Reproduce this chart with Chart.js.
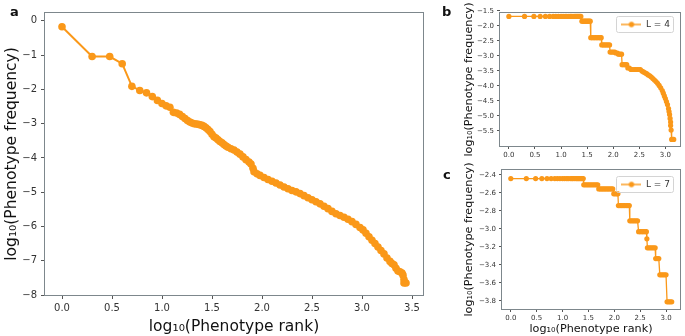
<!DOCTYPE html>
<html>
<head>
<meta charset="utf-8">
<script src="https://cdn.jsdelivr.net/npm/chart.js@4/dist/chart.umd.min.js"></script>
<style>
  body { margin: 0; background: #fff; width: 685px; height: 336px; position: relative; overflow: hidden; }
  canvas { position: absolute; }
  .tag { position: absolute; font: bold 13px "DejaVu Sans"; line-height: 13px; color: #111; }
</style>
</head>
<body>
<canvas id="chartA" width="440" height="336" style="left:0;top:0"></canvas>
<canvas id="chartB" width="245" height="160" style="left:440px;top:0"></canvas>
<canvas id="chartC" width="245" height="176" style="left:440px;top:160px"></canvas>
<div class="tag" style="left:10px;top:5px">a</div>
<div class="tag" style="left:442px;top:5px">b</div>
<div class="tag" style="left:443px;top:168px">c</div>
<script>
// panel a: all phenotypes
const aRank = [0, 0.301, 0.477, 0.602, 0.699, 0.778, 0.845, 0.903, 0.954, 1.0, 1.041, 1.079,
    1.114, 1.146, 1.176, 1.204, 1.23, 1.255, 1.279, 1.301, 1.322, 1.342, 1.362, 1.38,
    1.40, 1.42, 1.44, 1.46, 1.48, 1.50, 1.52, 1.54, 1.56, 1.58, 1.60, 1.62, 1.64, 1.66,
    1.69, 1.72, 1.75, 1.78, 1.81, 1.84, 1.87, 1.89, 1.91, 1.92, 1.95, 1.98,
    2.02, 2.06, 2.10, 2.14, 2.18, 2.22, 2.26, 2.30, 2.34, 2.38, 2.42, 2.46, 2.50,
    2.54, 2.58, 2.62, 2.66, 2.70, 2.74, 2.78, 2.82, 2.86, 2.90, 2.94, 2.98,
    3.01, 3.04, 3.07, 3.10, 3.13, 3.16, 3.19, 3.22, 3.25, 3.28, 3.30, 3.32, 3.34,
    3.36, 3.38, 3.40, 3.41, 3.42, 3.42, 3.44];
const aFreq = [-0.17, -1.04, -1.04, -1.25, -1.91, -2.03, -2.10, -2.21, -2.32, -2.41, -2.48, -2.52,
    -2.67, -2.69, -2.73, -2.79, -2.85, -2.91, -2.95, -2.98, -3.00, -3.01, -3.02, -3.03,
    -3.05, -3.08, -3.12, -3.17, -3.23, -3.31, -3.38, -3.42, -3.47, -3.52, -3.56, -3.61, -3.65, -3.69,
    -3.73, -3.77, -3.83, -3.89, -3.97, -4.05, -4.12, -4.18, -4.30, -4.40, -4.46, -4.51,
    -4.57, -4.63, -4.68, -4.73, -4.79, -4.85, -4.90, -4.95, -4.99, -5.04, -5.10, -5.16, -5.22,
    -5.28, -5.34, -5.41, -5.48, -5.56, -5.63, -5.68, -5.73, -5.79, -5.86, -5.94, -6.03,
    -6.10, -6.20, -6.30, -6.40, -6.50, -6.60, -6.70, -6.80, -6.92, -7.02, -7.08, -7.12, -7.22,
    -7.30, -7.32, -7.36, -7.42, -7.55, -7.65, -7.65];
const aXTicks = [0, 0.5, 1, 1.5, 2, 2.5, 3, 3.5];
const aYTicks = [0, -1, -2, -3, -4, -5, -6, -7, -8];

// panel b: L = 4
const bRank = [0, 0.30, 0.48, 0.60, 0.70, 0.78, 0.85, 0.90, 0.95, 1.00, 1.04, 1.08, 1.11, 1.15,
    1.18, 1.20, 1.23, 1.26, 1.28, 1.30, 1.32, 1.34, 1.36, 1.38,
    1.40, 1.42, 1.44, 1.46, 1.48, 1.50, 1.52, 1.54, 1.56,
    1.57, 1.60, 1.63, 1.66, 1.69, 1.72, 1.75, 1.77,
    1.78, 1.81, 1.84, 1.87, 1.90, 1.93,
    1.94, 1.97, 2.00, 2.03, 2.05, 2.08, 2.10, 2.13, 2.16,
    2.17, 2.20, 2.23, 2.26, 2.28, 2.31,
    2.34, 2.37, 2.40, 2.43, 2.46, 2.49, 2.52,
    2.55, 2.58, 2.61, 2.64, 2.67, 2.70, 2.73, 2.76, 2.79, 2.82, 2.85, 2.88, 2.91, 2.94,
    2.96, 2.98, 3.00, 3.02, 3.04, 3.06, 3.07, 3.08, 3.09, 3.10, 3.10, 3.11,
    3.12, 3.14, 3.16];
const bFreq = [-1.68, -1.68, -1.68, -1.68, -1.68, -1.68, -1.68, -1.68, -1.68, -1.68, -1.68, -1.68, -1.68, -1.68,
    -1.68, -1.68, -1.68, -1.68, -1.68, -1.68, -1.68, -1.68, -1.68, -1.68,
    -1.84, -1.84, -1.84, -1.84, -1.84, -1.84, -1.84, -1.84, -1.84,
    -2.39, -2.39, -2.39, -2.39, -2.39, -2.39, -2.39, -2.39,
    -2.63, -2.63, -2.63, -2.63, -2.63, -2.63,
    -2.87, -2.87, -2.87, -2.87, -2.90, -2.90, -2.94, -2.94, -2.94,
    -3.29, -3.29, -3.29, -3.29, -3.40, -3.40,
    -3.45, -3.45, -3.45, -3.45, -3.45, -3.45, -3.45,
    -3.50, -3.53, -3.56, -3.59, -3.63, -3.66, -3.70, -3.75, -3.80, -3.85, -3.91, -3.98, -4.06, -4.15,
    -4.24, -4.33, -4.42, -4.52, -4.62, -4.75, -4.85, -4.95, -5.08, -5.20, -5.32, -5.47,
    -5.78, -5.78, -5.78];
const bXTicks = [0, 0.5, 1, 1.5, 2, 2.5, 3];
const bYTicks = [-1.5, -2, -2.5, -3, -3.5, -4, -4.5, -5, -5.5];

// panel c: L = 7
const cRank = [0, 0.30, 0.48, 0.60, 0.70, 0.78, 0.85, 0.90, 0.95, 1.00, 1.04, 1.08, 1.11, 1.15,
    1.18, 1.20, 1.23, 1.26, 1.28, 1.30, 1.32, 1.34, 1.36, 1.38, 1.40,
    1.41, 1.44, 1.47, 1.50, 1.53, 1.56, 1.59, 1.62, 1.65, 1.68,
    1.70, 1.73, 1.76, 1.79, 1.82, 1.85, 1.88, 1.91, 1.94, 1.97,
    1.99, 2.02, 2.05, 2.07,
    2.08, 2.11, 2.14, 2.17, 2.20, 2.23, 2.26, 2.29,
    2.30, 2.33, 2.36, 2.39, 2.42, 2.45,
    2.47, 2.50, 2.53, 2.56, 2.59, 2.62,
    2.63,
    2.64, 2.67, 2.70, 2.73, 2.76, 2.79,
    2.80, 2.83, 2.86,
    2.88, 2.91, 2.94, 2.97, 3.00,
    3.02, 3.05, 3.08, 3.11];
const cFreq = [-2.44, -2.44, -2.44, -2.44, -2.44, -2.44, -2.44, -2.44, -2.44, -2.44, -2.44, -2.44, -2.44, -2.44,
    -2.44, -2.44, -2.44, -2.44, -2.44, -2.44, -2.44, -2.44, -2.44, -2.44, -2.44,
    -2.51, -2.51, -2.51, -2.51, -2.51, -2.51, -2.51, -2.51, -2.51, -2.51,
    -2.555, -2.555, -2.555, -2.555, -2.555, -2.555, -2.555, -2.555, -2.555, -2.555,
    -2.61, -2.61, -2.61, -2.61,
    -2.74, -2.74, -2.74, -2.74, -2.74, -2.74, -2.74, -2.74,
    -2.91, -2.91, -2.91, -2.91, -2.91, -2.91,
    -3.03, -3.03, -3.03, -3.03, -3.03, -3.03,
    -3.11,
    -3.21, -3.21, -3.21, -3.21, -3.21, -3.21,
    -3.33, -3.33, -3.33,
    -3.51, -3.51, -3.51, -3.51, -3.51,
    -3.81, -3.81, -3.81, -3.81];
const cXTicks = [0, 0.5, 1, 1.5, 2, 2.5, 3];
const cYTicks = [-2.4, -2.6, -2.8, -3.0, -3.2, -3.4, -3.6, -3.8];

const orange = "rgb(250, 152, 25)";
const font = "DejaVu Sans";

// little line+dot marker for the legends
const icon = document.createElement("canvas");
icon.width = 20;
icon.height = 8;
const ictx = icon.getContext("2d");
ictx.strokeStyle = orange;
ictx.lineWidth = 1.4;
ictx.beginPath();
ictx.moveTo(0, 4);
ictx.lineTo(20, 4);
ictx.stroke();
ictx.fillStyle = orange;
ictx.beginPath();
ictx.arc(10, 4, 2.7, 0, Math.PI * 2);
ictx.fill();

// legend in chartArea mode sits bottom-left: shift it to the top-right corner
const moveLegend = {
    id: "moveLegend",
    afterUpdate(chart, args, opts) {
        const lg = chart.legend;
        if (!lg || !lg.options.display) return;
        const a = chart.chartArea;
        const dx = a.right - lg.width + (opts.dx || 0) - lg.left;
        const dy = a.top + (opts.dy || 0) - lg.top;
        lg.left += dx;
        lg.right += dx;
        lg.top += dy;
        lg.bottom += dy;
        lg.legendHitBoxes.forEach((h) => {
            h.left += dx;
            h.top += dy;
        });
    },
};

// box round the plot area and round the legend
const frame = {
    id: "frame",
    afterDraw(chart) {
        const { ctx, chartArea: a } = chart;
        ctx.save();
        ctx.strokeStyle = "#7d878c";
        ctx.lineWidth = 1;
        ctx.strokeRect(Math.round(a.left) - 0.5, Math.round(a.top) - 0.5,
            Math.round(a.right - a.left) + 1, Math.round(a.bottom - a.top) + 1);
        const lg = chart.legend;
        if (lg && lg.options.display && lg.legendHitBoxes.length) {
            const h = lg.legendHitBoxes[0];
            ctx.strokeStyle = "#d4d4d4";
            ctx.beginPath();
            ctx.roundRect(Math.round(h.left) - 4.5, Math.round(h.top) - 3.5, Math.round(h.width) + 8, Math.round(h.height) + 7, 2);
            ctx.stroke();
        }
        ctx.restore();
    },
};

function axis(o) {
    return {
        type: "linear",
        min: o.min,
        max: o.max,
        afterBuildTicks: (s) => { s.ticks = o.ticks.map((v) => ({ value: v })); },
        afterFit: (s) => {
            if (s.isHorizontal()) s.height = o.size;
            else s.width = o.size;
        },
        grid: { drawOnChartArea: false, drawTicks: true, tickLength: o.tick, color: "#555" },
        border: { display: false },
        ticks: {
            autoSkip: false,
            maxRotation: 0,
            padding: o.pad,
            color: "#333",
            font: { family: font, size: o.font },
            callback: (v) => v.toFixed(o.dec).replace("-", "\u2212"),
        },
        title: {
            display: !!o.title,
            text: o.title || "",
            color: "#111",
            font: { family: font, size: o.titleSize },
            padding: { top: o.titlePad || 0, bottom: 0 },
        },
    };
}

function plot(id, xs, ys, label, o) {
    new Chart(document.getElementById(id).getContext("2d"), {
        type: "scatter",
        data: {
            datasets: [
                {
                    label: label,
                    data: xs.map((x, i) => ({ x: x, y: ys[i] })),
                    showLine: true,
                    borderColor: orange,
                    backgroundColor: orange,
                    borderWidth: o.lineWidth,
                    pointRadius: o.radius,
                    pointBorderWidth: 0,
                    pointHoverRadius: o.radius,
                },
            ],
        },
        options: {
            responsive: false,
            animation: false,
            devicePixelRatio: 1,
            layout: { padding: o.padding },
            scales: { x: axis(o.x), y: axis(o.y) },
            plugins: {
                tooltip: { enabled: false },
                moveLegend: o.legend || {},
                legend: {
                    display: !!label,
                    position: "chartArea",
                    align: "start",
                    labels: {
                        usePointStyle: true,
                        pointStyle: icon,
                        pointStyleWidth: 20,
                        padding: 7,
                        color: "#333",
                        font: { family: font, size: 9 },
                    },
                },
            },
        },
        plugins: [moveLegend, frame],
    });
}

plot("chartA", aRank, aFreq, "", {
    lineWidth: 2,
    radius: 3.8,
    padding: { left: 0, top: 13, right: 17, bottom: 0 },
    x: { min: -0.17, max: 3.61, ticks: aXTicks, size: 41, tick: 4, pad: 3, font: 10, dec: 1,
        title: "log\u2081\u2080(Phenotype rank)", titleSize: 15.5, titlePad: 3.5 },
    y: { min: -8, max: 0.23, ticks: aYTicks, size: 45, tick: 4, pad: 4, font: 10, dec: 0,
        title: "log\u2081\u2080(Phenotype frequency)", titleSize: 15.5, titlePad: 3 },
});

plot("chartB", bRank, bFreq, "L = 4", {
    lineWidth: 1.3,
    radius: 2.6,
    padding: { left: 20, top: 13, right: 5, bottom: 0 },
    legend: { dx: 0, dy: 0 },
    x: { min: -0.17, max: 3.28, ticks: bXTicks, size: 14, tick: 3, pad: 2, font: 7, dec: 1 },
    y: { min: -6.0, max: -1.567, ticks: bYTicks, size: 40, tick: 3, pad: 3, font: 7, dec: 1,
        title: "log\u2081\u2080(Phenotype frequency)", titleSize: 11.2, titlePad: 2 },
});

plot("chartC", cRank, cFreq, "L = 7", {
    lineWidth: 1.3,
    radius: 2.6,
    padding: { left: 20, top: 10, right: 5, bottom: 0 },
    legend: { dx: 0, dy: 3 },
    x: { min: -0.17, max: 3.27, ticks: cXTicks, size: 27, tick: 3, pad: 2, font: 7, dec: 1,
        title: "log\u2081\u2080(Phenotype rank)", titleSize: 11.2, titlePad: 0 },
    y: { min: -3.89, max: -2.345, ticks: cYTicks, size: 42, tick: 3, pad: 3, font: 7, dec: 1,
        title: "log\u2081\u2080(Phenotype frequency)", titleSize: 11.2, titlePad: 2 },
});
</script>
</body>
</html>
